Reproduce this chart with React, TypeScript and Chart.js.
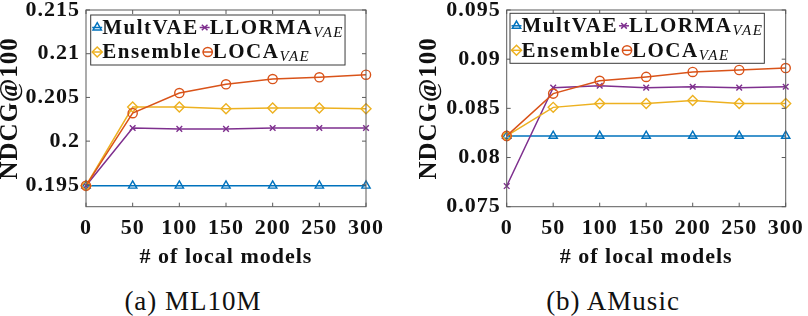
import React, { useEffect, useRef } from 'react';
import { Chart, registerables } from 'chart.js';
import { drawPoint } from 'chart.js/helpers';

Chart.register(...registerables);

// ---------------- data ----------------
const localModels = [0, 50, 100, 150, 200, 250, 300];
const xTickValues = [0, 50, 100, 150, 200, 250, 300];
const seriesNames = ['MultVAE', 'LLORMA', 'Ensemble', 'LOCA'];
const seriesSubscripts = ['', 'VAE', '', 'VAE'];

const ml10mMultVAE = [0.1949, 0.1949, 0.1949, 0.1949, 0.1949, 0.1949, 0.1949];
const ml10mLLORMA = [0.1949, 0.2015, 0.2014, 0.2014, 0.2015, 0.2015, 0.2015];
const ml10mEnsemble = [0.1949, 0.2039, 0.2039, 0.2037, 0.2038, 0.2038, 0.2037];
const ml10mLOCA = [0.1949, 0.2032, 0.2055, 0.2065, 0.2071, 0.2073, 0.2076];
const ml10mYTicks = [0.195, 0.2, 0.205, 0.21, 0.215];

const amusicMultVAE = [0.0822, 0.0822, 0.0822, 0.0822, 0.0822, 0.0822, 0.0822];
const amusicLLORMA = [0.0771, 0.0871, 0.0873, 0.0871, 0.0872, 0.0871, 0.0872];
const amusicEnsemble = [0.0822, 0.0851, 0.0855, 0.0855, 0.0858, 0.0855, 0.0855];
const amusicLOCA = [0.0822, 0.0865, 0.0878, 0.0882, 0.0887, 0.0889, 0.0891];
const amusicYTicks = [0.075, 0.08, 0.085, 0.09, 0.095];

const xTitle = '# of local models';
const yTitle = 'NDCG@100';
const captions = ['(a) ML10M', '(b) AMusic'];

// ---------------- styles ----------------
const SERIF = "'Liberation Serif', 'Times New Roman', Times, serif";
const COLORS = ['#0072BD', '#7E2F8E', '#EDB120', '#D95319'];
const POINT_STYLES = ['triangle', 'crossRot', 'rectRot', 'circle'];
const POINT_RADII = [4.8, 4, 5, 4.6];
const DRAW_ORDER = [4, 3, 2, 1];

type Geom = {
  padLeft: number;
  padRight: number;
  yWidth: number;
  legendDx: number;
  legendDy: number;
};

function framePlugin() {
  return {
    id: 'matlabFrame',
    beforeDraw(chart: any) {
      chart.ctx.letterSpacing = '1px';
    },
    afterDatasetsDraw(chart: any) {
      const ctx = chart.ctx;
      const a = chart.chartArea;
      ctx.save();
      ctx.letterSpacing = '0px';
      ctx.strokeStyle = '#5a5a5a';
      ctx.lineWidth = 1;
      ctx.strokeRect(a.left, a.top, a.right - a.left, a.bottom - a.top);
      const tl = 4;
      const xs = chart.scales.x;
      const ys = chart.scales.y;
      ctx.beginPath();
      xs.ticks.forEach((t: any) => {
        const px = xs.getPixelForValue(t.value);
        ctx.moveTo(px, a.bottom);
        ctx.lineTo(px, a.bottom - tl);
        ctx.moveTo(px, a.top);
        ctx.lineTo(px, a.top + tl);
      });
      ys.ticks.forEach((t: any) => {
        const py = ys.getPixelForValue(t.value);
        ctx.moveTo(a.left, py);
        ctx.lineTo(a.left + tl, py);
        ctx.moveTo(a.right, py);
        ctx.lineTo(a.right - tl, py);
      });
      ctx.stroke();
      ctx.restore();
    },
  };
}

function legendPlugin(g: Geom) {
  return {
    id: 'matlabLegend',
    afterDraw(chart: any) {
      const ctx = chart.ctx;
      const a = chart.chartArea;
      const x0 = a.left + g.legendDx;
      const y0 = a.top + g.legendDy;
      const mainFont = `bold 21px ${SERIF}`;
      const subFont = `italic 15px ${SERIF}`;
      ctx.save();
      ctx.letterSpacing = '1.5px';
      const widths = seriesNames.map((n, i) => {
        ctx.font = mainFont;
        const w1 = ctx.measureText(n).width;
        let w2 = 0;
        if (seriesSubscripts[i]) {
          ctx.font = subFont;
          w2 = ctx.measureText(seriesSubscripts[i]).width;
        }
        return { w1, w2 };
      });
      const rows = [
        [0, 1],
        [2, 3],
      ];
      const rowY = [y0 + 12.5, y0 + 37];
      const items: { idx: number; mx: number; tx: number; y: number }[] = [];
      let maxEnd = 0;
      rows.forEach((row, r) => {
        let mx = x0 + 6.5;
        row.forEach((idx) => {
          const tx = mx + 5;
          items.push({ idx, mx, tx, y: rowY[r] });
          const end = tx + widths[idx].w1 + widths[idx].w2;
          maxEnd = Math.max(maxEnd, end);
          mx = end + 6;
        });
      });
      const boxW = maxEnd + 1 - x0;
      const boxH = 50;
      ctx.fillStyle = '#ffffff';
      ctx.fillRect(x0, y0, boxW, boxH);
      ctx.strokeStyle = '#3a3a3a';
      ctx.lineWidth = 1;
      ctx.strokeRect(x0, y0, boxW, boxH);

      items.forEach(({ idx, mx, tx, y }) => {
        ctx.strokeStyle = COLORS[idx];
        ctx.lineWidth = 1.5;
        ctx.beginPath();
        ctx.moveTo(mx - 5, y);
        ctx.lineTo(mx + 5, y);
        ctx.stroke();
        ctx.fillStyle = 'rgba(0,0,0,0)';
        ctx.strokeStyle = COLORS[idx];
        drawPoint(
          ctx,
          {
            pointStyle: POINT_STYLES[idx],
            radius: POINT_RADII[idx],
            rotation: 0,
            borderWidth: 1.4,
          } as any,
          mx,
          y
        );
        ctx.fillStyle = '#111111';
        ctx.textBaseline = 'middle';
        ctx.textAlign = 'left';
        ctx.font = mainFont;
        ctx.fillText(seriesNames[idx], tx, y + 1);
        if (seriesSubscripts[idx]) {
          ctx.font = subFont;
          ctx.fillText(seriesSubscripts[idx], tx + widths[idx].w1, y + 5.5);
        }
      });
      ctx.restore();
    },
  };
}

function makeConfig(
  series: number[][],
  yMin: number,
  yMax: number,
  yTicks: number[],
  g: Geom
): any {
  const datasets = series.map((vals, i) => ({
    label: seriesNames[i],
    data: localModels.map((x, j) => ({ x, y: vals[j] })),
    borderColor: COLORS[i],
    backgroundColor: 'rgba(0,0,0,0)',
    borderWidth: 1.5,
    pointStyle: POINT_STYLES[i],
    pointRadius: POINT_RADII[i],
    pointBorderWidth: 1.4,
    pointBorderColor: COLORS[i],
    pointBackgroundColor: 'rgba(0,0,0,0)',
    tension: 0,
    clip: false,
    order: DRAW_ORDER[i],
  }));
  return {
    type: 'line',
    data: { datasets },
    plugins: [framePlugin(), legendPlugin(g)],
    options: {
      animation: false,
      responsive: false,
      devicePixelRatio: 1,
      events: [],
      layout: {
        padding: { left: g.padLeft, right: g.padRight, top: 10, bottom: 1.8 },
      },
      plugins: {
        legend: { display: false },
        tooltip: { enabled: false },
        title: { display: false },
      },
      scales: {
        x: {
          type: 'linear',
          min: 0,
          max: 300,
          afterBuildTicks: (s: any) => {
            s.ticks = xTickValues.map((v) => ({ value: v }));
          },
          afterFit: (s: any) => {
            s.height = 63.5;
            s.paddingLeft = 0;
            s.paddingRight = 0;
          },
          grid: { display: false, drawTicks: false },
          border: { display: false },
          ticks: {
            autoSkip: false,
            maxRotation: 0,
            padding: 8,
            color: '#111111',
            font: { family: SERIF, size: 22, weight: 'bold' },
            callback: (v: any) => String(v),
          },
          title: {
            display: true,
            text: xTitle,
            color: '#111111',
            padding: 0,
            font: { family: SERIF, size: 22, weight: 'bold' },
          },
        },
        y: {
          type: 'linear',
          min: yMin,
          max: yMax,
          afterBuildTicks: (s: any) => {
            s.ticks = yTicks.map((v) => ({ value: v }));
          },
          afterFit: (s: any) => {
            s.width = g.yWidth;
            s.paddingTop = 0;
            s.paddingBottom = 0;
          },
          grid: { display: false, drawTicks: false },
          border: { display: false },
          ticks: {
            padding: 6,
            color: '#111111',
            font: { family: SERIF, size: 22, weight: 'bold' },
            callback: (v: any) => String(parseFloat(Number(v).toFixed(4))),
          },
          title: {
            display: true,
            text: yTitle,
            color: '#111111',
            padding: 0,
            font: { family: SERIF, size: 25, weight: 'bold', lineHeight: 0.85 },
          },
        },
      },
    },
  };
}

function ChartCanvas({ left, build }: { left: number; build: () => any }) {
  const ref = useRef<HTMLCanvasElement>(null);
  useEffect(() => {
    const chart = new Chart(ref.current as HTMLCanvasElement, build());
    return () => chart.destroy();
  }, []);
  return (
    <canvas
      ref={ref}
      width={404}
      height={272}
      style={{ position: 'absolute', left, top: 0, width: 404, height: 272 }}
    />
  );
}

export default function App() {
  const captionStyle: React.CSSProperties = {
    position: 'absolute',
    top: 286,
    width: 220,
    height: 30,
    lineHeight: '30px',
    textAlign: 'center',
    fontFamily: SERIF,
    fontSize: 27,
    letterSpacing: '1px',
    color: '#111111',
    whiteSpace: 'nowrap',
  };
  return (
    <div
      style={{
        position: 'absolute',
        left: 0,
        top: 0,
        width: 808,
        height: 316,
        background: '#ffffff',
        overflow: 'hidden',
      }}
    >
      <ChartCanvas
        left={0}
        build={() =>
          makeConfig(
            [ml10mMultVAE, ml10mLLORMA, ml10mEnsemble, ml10mLOCA],
            0.1925,
            0.215,
            ml10mYTicks,
            { padLeft: 0, padRight: 38, yWidth: 86, legendDx: 4.7, legendDy: 5 }
          )
        }
      />
      <ChartCanvas
        left={404}
        build={() =>
          makeConfig(
            [amusicMultVAE, amusicLLORMA, amusicEnsemble, amusicLOCA],
            0.075,
            0.095,
            amusicYTicks,
            { padLeft: 15, padRight: 22.3, yWidth: 87.7, legendDx: 3.3, legendDy: 3.3 }
          )
        }
      />
      <div style={{ ...captionStyle, left: 193 - 110 }}>{captions[0]}</div>
      <div style={{ ...captionStyle, left: 613 - 110 }}>{captions[1]}</div>
    </div>
  );
}
